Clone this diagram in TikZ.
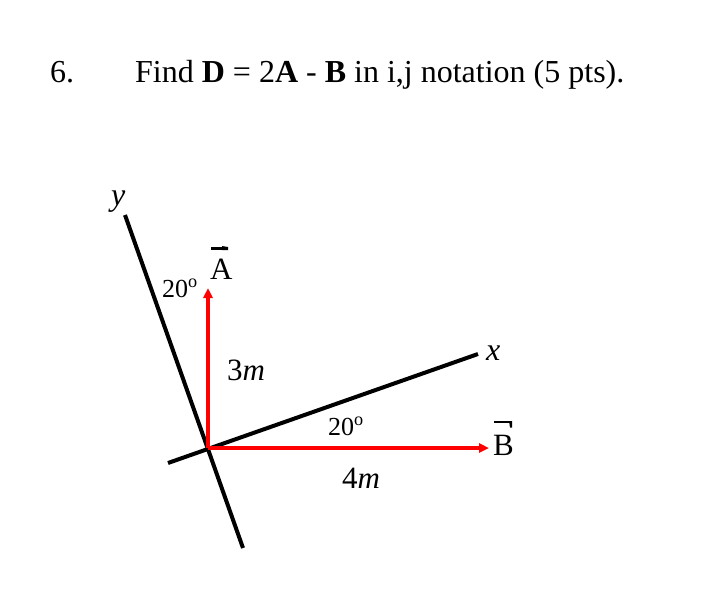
\documentclass[tikz,border=0pt]{standalone}
\usepackage{fontspec}
\setmainfont{Liberation Serif}
\usetikzlibrary{arrows.meta}
\tikzset{
  axis/.style={line width=4pt, black},
  vecred/.style={line width=3.6pt, red, -{Triangle[length=10pt,width=9pt]}},
  lbl/.style={inner sep=0pt, anchor=base west, font=\fontsize{31}{36}\selectfont},
  ang/.style={inner sep=0pt, anchor=base west, font=\fontsize{26}{30}\selectfont},
  harp/.style={line width=2.6pt, line cap=butt},
}
\begin{document}
\begin{tikzpicture}[x=1pt,y=-1pt]
\useasboundingbox (0,0) rectangle (715,603);
% title
\node[lbl, font=\fontsize{32}{38}\selectfont] (num) at (50,82) {6.};
\node[lbl, font=\fontsize{32}{38}\selectfont] (title) at (135,82) {Find \textbf{D} = 2\textbf{A} - \textbf{B} in i,j notation (5 pts).};
% axes
\coordinate (O) at (208,448);
\coordinate (xs) at (168,463);
\coordinate (xe) at (478,354);
\coordinate (ys) at (125,215);
\coordinate (ye) at (243,548);
\draw[axis] (xs) -- (xe);
\draw[axis] (ys) -- (ye);
% vectors
\coordinate (At) at (208,288);
\coordinate (Bt) at (489,448);
\draw[vecred] (O) -- (At);
\draw[vecred] (O) -- (Bt);
% labels
\node[lbl, font=\fontsize{32}{36}\selectfont\itshape] (ylab) at (111,205) {y};
\node[lbl, font=\fontsize{32}{36}\selectfont\itshape] (xlab) at (486,360) {x};
\node[ang] (a1) at (162,297) {20\textsuperscript{o}};
\node[ang] (a2) at (328,435) {20\textsuperscript{o}};
\node[lbl] (Alab) at (210,279) {A};
\node[lbl] (Blab) at (493,455) {B};
\node[lbl] (m3) at (227,380) {3\textit{m}};
\node[lbl] (m4) at (342,488) {4\textit{m}};
% vector marks over A and B
\draw[harp] (211,248.5) -- (226,248.5);
\fill (222,246) -- (228,247) -- (228,250) -- (222,250) -- cycle;
\draw[harp] (494,422) -- (511,422);
\fill (509,421) -- (512,421) -- (512,427.5) -- (510,427.5) -- cycle;
\end{tikzpicture}
\end{document}
